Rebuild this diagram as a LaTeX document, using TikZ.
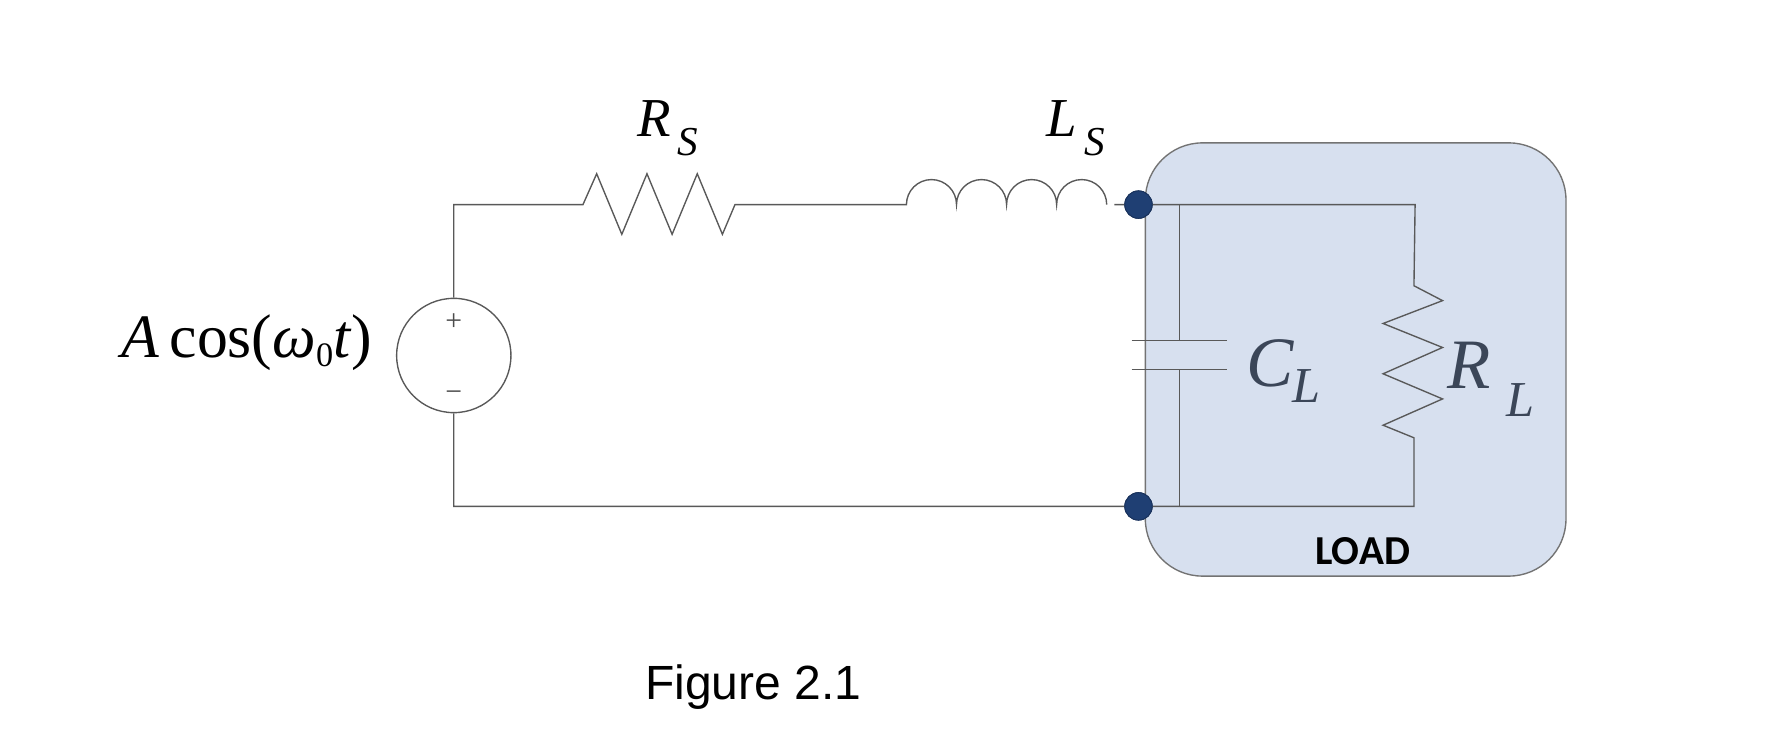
\documentclass[tikz,border=0pt]{standalone}
\usepackage{fontspec}
\setmainfont{Liberation Serif}
\newfontfamily\sansf{Liberation Sans}
\newfontfamily\loadf{Carlito}
\definecolor{boxfill}{RGB}{215,224,239}
\definecolor{dotc}{RGB}{31,63,115}
\definecolor{ldc}{RGB}{59,70,88}
\begin{document}
\begin{tikzpicture}[x=0.5pt,y=-0.5pt,
  wire/.style={draw=black!65,line width=0.6pt},
  dot/.style={circle,fill=dotc,draw=dotc!80!black,minimum size=12pt,inner sep=0pt},
  lbl/.style={inner sep=0pt,font=\fontsize{24}{24}\selectfont\itshape},
  sub/.style={inner sep=0pt,font=\fontsize{18}{18}\selectfont\itshape},
  ldl/.style={inner sep=0pt,text=ldc,font=\fontsize{31}{31}\selectfont\itshape},
  lds/.style={inner sep=0pt,text=ldc,font=\fontsize{22}{22}\selectfont\itshape}]
\useasboundingbox (0,0) rectangle (1566,637);
\fill[white] (0,0) rectangle (1566,637);
% load box
\node[draw=black!55,fill=boxfill,rounded corners=25pt,line width=0.6pt,minimum width=184pt,minimum height=189.5pt,inner sep=0pt] (box) at (1186,314.5) {};
\node[font=\loadf\bfseries\fontsize{18}{18}\selectfont] (load) at (1192,482) {LOAD};
% nodes
\coordinate (tl) at (397,179); \coordinate (bl) at (397,443);
\node[circle,draw=black!65,line width=0.6pt,minimum size=50pt,inner sep=0pt] (src) at (397,311) {};
\node[font=\fontsize{13}{13}\selectfont,text=black!70] (plus) at (397,282) {+};
\node[font=\fontsize{13}{13}\selectfont,text=black!70] (minus) at (397,347) {−};
\node[anchor=east,inner sep=0pt,font=\fontsize{27}{27}\selectfont] (srclbl) at (326,300) {\textit{A}\,cos(\textit{ω}\raisebox{-0.3ex}{\fontsize{15}{15}\selectfont 0}\textit{t})};
\coordinate (r1) at (510,179); \coordinate (r2) at (643,179);
\coordinate (l1) at (793,179);
\coordinate (l3) at (975,179);
\node[dot] (na) at (996,179) {};
\node[dot] (nb) at (996,443) {};
\coordinate (ct) at (1032,179); \coordinate (cb) at (1032,443);
\coordinate (rt) at (1238,179); \coordinate (rb) at (1237,443);
% labels
\node[lbl] (rs) at (572,104) {R};
\node[sub] (rss) at (602,124) {S};
\node[lbl] (ls) at (929,104) {L};
\node[sub] (lss) at (958,124) {S};
\node[ldl] (cl) at (1111,318) {C};
\node[lds] (cls) at (1143,338) {L};
\node[ldl] (rl) at (1285,320) {R};
\node[lds] (rls) at (1330,350) {L};
\node[font=\sansf\fontsize{21}{21}\selectfont] (fig) at (659,601) {Figure 2.1};
% wires
\draw[wire] (src.north) -- (tl) -- (r1) -- ++(12,-27) -- ++(22,53) -- ++(22,-53) -- ++(22,53) -- ++(22,-53) -- ++(22,53) -- (r2) -- (l1)
  arc[start angle=180,delta angle=180,radius=21.9] arc[start angle=180,delta angle=180,radius=21.9]
  arc[start angle=180,delta angle=180,radius=21.9] arc[start angle=180,delta angle=180,radius=21.9];
\draw[wire] (l3) -- (na.center) -- (rt) -- (1237,250) -- (1262,263) -- (1210,283) -- (1262,304) -- (1210,327) -- (1262,349) -- (1210,372) -- (1237,383) -- (rb) -- (nb.center) -- (bl) -- (src.south);
\draw[wire] (ct) -- (1032,298) (cb) -- (1032,323);
\draw[wire] (990,298) -- (1073,298) (990,323) -- (1073,323);
\node[dot] at (na) {}; \node[dot] at (nb) {};
\end{tikzpicture}
\end{document}
